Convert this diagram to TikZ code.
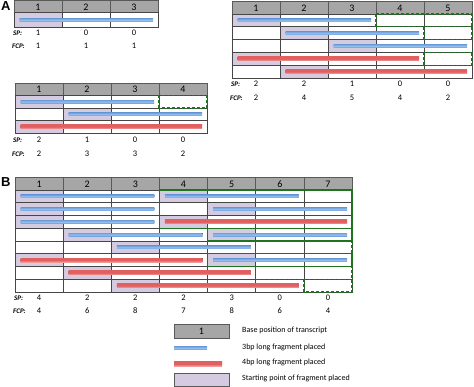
\documentclass[tikz,border=0pt]{standalone}
\usepackage{fontspec}
\setmainfont{Carlito}
\newfontfamily\panelfont{Liberation Sans}
\definecolor{hdrgray}{RGB}{166,166,166}
\definecolor{hdrline}{RGB}{89,89,89}
\definecolor{gridc}{RGB}{70,70,70}
\definecolor{startc}{RGB}{212,203,224}
\definecolor{bluemain}{RGB}{150,190,235}
\definecolor{bluedark}{RGB}{110,160,220}
\definecolor{redmain}{RGB}{226,95,95}
\definecolor{redlight}{RGB}{242,160,160}
\definecolor{greenc}{RGB}{30,115,30}
\tikzset{
  hdr/.style={fill=hdrgray,draw=hdrline,line width=0.8pt},
  hnum/.style={font=\fontsize{10}{10}\selectfont,inner sep=0pt},
  cellline/.style={draw=gridc,line width=0.7pt},
  startfill/.style={fill=startc},
  bluebar/.style={top color=bluedark,bottom color=bluedark,middle color=bluemain},
  redbar/.style={top color=redmain,bottom color=redlight,middle color=redmain},
  gsolid/.style={draw=greenc,line width=1.2pt},
  gdash/.style={draw=greenc,line width=1.3pt,dash pattern=on 3pt off 2pt},
  rowlab/.style={font=\fontsize{7}{7}\selectfont\bfseries\itshape,anchor=west,inner sep=0pt},
  rownum/.style={font=\fontsize{8.5}{8.5}\selectfont,inner sep=0pt},
  legtext/.style={font=\fontsize{8}{8}\selectfont,anchor=west,inner sep=0pt},
  panel/.style={font=\panelfont\bfseries\fontsize{13}{13}\selectfont,inner sep=0pt}
}
\newcommand\settab[5]{\def\tx{#1}\def\tw{#2}\def\tht{#3}\def\thb{#4}\def\trh{#5}}
\newcommand\header[2]{%
  \foreach \c in {1,...,#2}{%
    \pgfmathsetmacro\xa{\tx+(\c-1)*\tw}%
    \pgfmathsetmacro\xb{\tx+\c*\tw}%
    \filldraw[hdr] (\xa,\tht) rectangle (\xb,\thb);
    \node[hnum] (#1h\c) at ({(\xa+\xb)/2},{(\tht+\thb)/2+0.5}) {\c};
  }}
\newcommand\gridlines[2]{%
  \foreach \c in {1,...,#1}{\foreach \r in {1,...,#2}{%
    \pgfmathsetmacro\xa{\tx+(\c-1)*\tw}%
    \pgfmathsetmacro\xb{\tx+\c*\tw}%
    \pgfmathsetmacro\ya{\thb+(\r-1)*\trh}%
    \pgfmathsetmacro\yb{\thb+\r*\trh}%
    \draw[cellline] (\xa,\ya) rectangle (\xb,\yb);
  }}}
\newcommand\stcell[2]{%
  \pgfmathsetmacro\xa{\tx+(#1-1)*\tw}%
  \pgfmathsetmacro\xb{\tx+#1*\tw}%
  \pgfmathsetmacro\ya{\thb+(#2-1)*\trh}%
  \pgfmathsetmacro\yb{\thb+#2*\trh}%
  \fill[startfill] (\xa,\ya) rectangle (\xb,\yb);}
\newcommand\fragbar[5]{% row, c1, c2, style, half thickness
  \pgfmathsetmacro\ym{\thb+(#1-0.5)*\trh}%
  \pgfmathsetmacro\xa{\tx+(#2-1)*\tw+5.5}%
  \pgfmathsetmacro\xb{\tx+#3*\tw-5}%
  \fill[#4] (\xa,{\ym-#5}) rectangle (\xb,{\ym+#5});}
\newcommand\gbox[5]{% c1, r1, c2, r2, style
  \pgfmathsetmacro\xa{\tx+(#1-1)*\tw}%
  \pgfmathsetmacro\xb{\tx+#3*\tw}%
  \pgfmathsetmacro\ya{\thb+(#2-1)*\trh}%
  \pgfmathsetmacro\yb{\thb+#4*\trh}%
  \draw[#5] (\xa,\ya) rectangle (\xb,\yb);}
\newcommand\numrow[5]{% name, label x, y, label, list
  \node[rowlab] (#1lab) at (#2,#3) {#4};
  \foreach \v [count=\c] in {#5}{%
    \node[rownum] (#1\c) at ({\tx+(\c-0.5)*\tw},#3) {\v};
  }}
\newcommand\bb[3]{\fragbar{#1}{#2}{#3}{bluebar}{1.6}}
\newcommand\rb[3]{\fragbar{#1}{#2}{#3}{redbar}{2.1}}
\begin{document}
\begin{tikzpicture}[x=1pt,y=-1pt]
\useasboundingbox (0,0) rectangle (474,387);
\fill[white] (0,0) rectangle (474,387);
% ---------- Panel labels
\node[panel,anchor=north west] (labA) at (1,1) {A};
\node[panel,anchor=north west] (labB) at (1,177.5) {B};
% ---------- Table A1
\settab{14}{48}{0.5}{12.5}{15}
\header{ta}{3}
\stcell{1}{1}
\gridlines{3}{1}
\bb{1}{1}{3}
\numrow{tasp}{13}{33}{SP:}{1,0,0}
\numrow{tafcp}{12}{46}{FCP:}{1,1,1}
% ---------- Table A2
\settab{232}{48}{1}{14}{12.8}
\header{tb}{5}
\stcell{1}{1}\stcell{2}{2}\stcell{3}{3}\stcell{1}{4}\stcell{2}{5}
\gridlines{5}{5}
\bb{1}{1}{3}\bb{2}{2}{4}\bb{3}{3}{5}
\rb{4}{1}{4}\rb{5}{2}{5}
\gbox{4}{1}{5}{1}{gdash}
\gbox{5}{2}{5}{2}{gdash}
\gbox{5}{4}{5}{4}{gdash}
\numrow{tbsp}{231}{84}{SP:}{2,2,1,0,0}
\numrow{tbfcp}{230}{98}{FCP:}{2,4,5,4,2}
% ---------- Table A3
\settab{15}{48}{83}{95.5}{12.5}
\header{tc}{4}
\stcell{1}{1}\stcell{2}{2}\stcell{1}{3}
\gridlines{4}{3}
\bb{1}{1}{3}\bb{2}{2}{4}\rb{3}{1}{4}
\gbox{4}{1}{4}{1}{gdash}
\numrow{tcsp}{13}{140}{SP:}{2,1,0,0}
\numrow{tcfcp}{12}{154}{FCP:}{2,3,3,2}
% ---------- Table B
\settab{15}{48.15}{177}{190}{12.75}
\header{td}{7}
\stcell{1}{1}\stcell{1}{2}\stcell{1}{3}\stcell{2}{4}\stcell{3}{5}
\stcell{1}{6}\stcell{2}{7}\stcell{3}{8}
\stcell{4}{1}\stcell{5}{2}\stcell{4}{3}\stcell{5}{4}\stcell{5}{6}
\gridlines{7}{8}
\bb{1}{1}{3}\bb{2}{1}{3}\bb{3}{1}{3}\bb{4}{2}{4}\bb{5}{3}{5}
\rb{6}{1}{4}\rb{7}{2}{5}\rb{8}{3}{6}
\bb{1}{4}{6}\bb{2}{5}{7}\rb{3}{4}{7}\bb{4}{5}{7}\bb{6}{5}{7}
\gbox{4}{1}{7}{3}{gsolid}
\gbox{5}{4}{7}{4}{gsolid}
\gbox{6}{5}{7}{5}{gdash}
\gbox{5}{6}{7}{6}{gsolid}
\gbox{6}{7}{7}{7}{gdash}
\gbox{7}{8}{7}{8}{gdash}
\numrow{tdsp}{14}{298}{SP:}{4,2,2,2,3,0,0}
\numrow{tdfcp}{13}{311}{FCP:}{4,6,8,7,8,6,4}
% ---------- Legend
\node[hdr,minimum width=55pt,minimum height=14pt,inner sep=0pt,font=\fontsize{10}{10}\selectfont] (leg1) at (201.5,331) {1};
\fill[bluebar] (174,346.4) rectangle (207,349.6);
\fill[redbar] (174,361.9) rectangle (222,366.1);
\node[startfill,draw=hdrline,line width=0.8pt,minimum width=55pt,minimum height=13pt,inner sep=0pt] (leg4) at (201.5,379.5) {};
\node[legtext] (lt1) at (242,330) {Base position of transcript};
\node[legtext] (lt2) at (242,347) {3bp long fragment placed};
\node[legtext] (lt3) at (242,362) {4bp long fragment placed};
\node[legtext] (lt4) at (242,378) {Starting point of fragment placed};
\end{tikzpicture}
\end{document}
